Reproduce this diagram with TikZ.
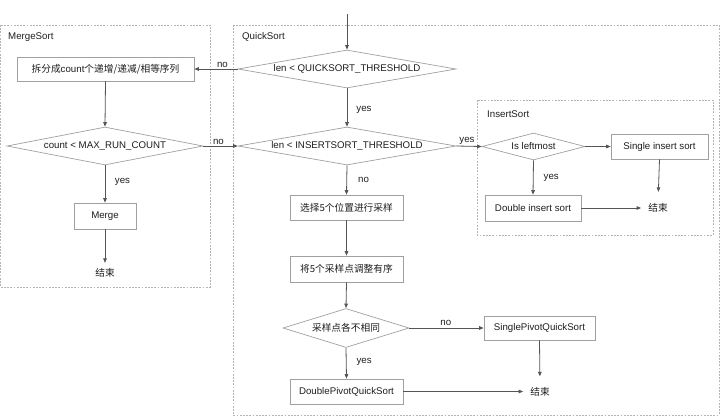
\documentclass[tikz,border=0pt]{standalone}
\usepackage{fontspec}
\setmainfont{Liberation Sans}
\newfontfamily\cjk{Noto Sans CJK SC}
\usetikzlibrary{shapes.geometric,arrows.meta}
\definecolor{txt}{HTML}{1E1E1E}
\definecolor{linec}{HTML}{555555}
\definecolor{bordc}{HTML}{A0A0A0}
\definecolor{contc}{HTML}{B4B4B4}
\begin{document}
\begin{tikzpicture}[x=1pt,y=-1pt,
  font=\fontsize{9.7}{11}\selectfont,
  every node/.style={text=txt},
  cont/.style={draw=contc,line width=0.7pt,dash pattern=on 1.8pt off 1.4pt},
  contlabel/.style={anchor=west,inner sep=0pt},
  stepbox/.style={draw=bordc,line width=0.7pt,fill=white,inner sep=0pt},
  dia/.style={shape=diamond,draw=bordc,line width=0.7pt,fill=white,inner sep=0pt},
  endnode/.style={inner sep=0.5pt},
  arr/.style={draw=linec,line width=0.8pt,-{Triangle[length=4.5pt,width=3.6pt]}},
  lab/.style={inner sep=1.5pt,font=\fontsize{9.7}{11}\selectfont}
]
\useasboundingbox (0,0) rectangle (720,418);

% containers
\draw[cont] (0.5,25) rectangle (210,287);
\draw[cont] (233,25) rectangle (719,415);
\draw[cont] (477,100) rectangle (713,235);
\node[contlabel] (lmerge) at (8,37) {MergeSort};
\node[contlabel] (lquick) at (242,37) {QuickSort};
\node[contlabel] (linsert) at (487,114) {InsertSort};

% MergeSort
\node[stepbox,minimum width=177pt,minimum height=24pt] (split) at (105.5,69) {{\cjk 拆分成}count{\cjk 个递增/递减/相等序列}};
\node[dia,aspect=5.2,minimum width=196pt,minimum height=38pt] (mrc) at (105,146) {count < MAX\_RUN\_COUNT};
\node[stepbox,minimum width=62pt,minimum height=26pt] (merge) at (105,216) {Merge};
\node[endnode] (end1) at (105,273) {\cjk 结束};

% QuickSort
\coordinate (start) at (347,14);
\node[dia,aspect=5.7,minimum width=218pt,minimum height=38pt] (qs) at (347,69) {len < QUICKSORT\_THRESHOLD};
\node[dia,aspect=5.7,minimum width=218pt,minimum height=38pt] (is) at (347,146) {len < INSERTSORT\_THRESHOLD};
\node[stepbox,minimum width=113pt,minimum height=25pt] (sample) at (346.5,207.5) {\cjk 选择5个位置进行采样};
\node[stepbox,minimum width=113pt,minimum height=26pt] (order) at (346.5,269) {\cjk 将5个采样点调整有序};
\node[dia,aspect=3.2,minimum width=126pt,minimum height=39pt] (dist) at (346,328) {\cjk 采样点各不相同};
\node[stepbox,minimum width=111pt,minimum height=24pt] (spq) at (539.5,328) {SinglePivotQuickSort};
\node[stepbox,minimum width=113pt,minimum height=25pt] (dpq) at (346.5,391.5) {DoublePivotQuickSort};
\node[endnode] (end3) at (540,391.5) {\cjk 结束};

% InsertSort
\node[dia,aspect=3.8,minimum width=103pt,minimum height=27pt] (lm) at (533.5,146.5) {Is leftmost};
\node[stepbox,minimum width=97pt,minimum height=25pt] (sis) at (659.5,146.5) {Single insert sort};
\node[stepbox,minimum width=96pt,minimum height=26pt] (dis) at (533,208) {Double insert sort};
\node[endnode] (end2) at (658,208) {\cjk 结束};

% connectors
\draw[arr] (start) -- (qs.north);
\draw[arr] (qs.west) -- node[lab,pos=0.35,above] {no} (split.east);
\draw[arr] (split.south) -- (mrc.north);
\draw[arr] (mrc.south) -- node[lab,pos=0.45,anchor=west,xshift=8pt] {yes} (merge.north);
\draw[arr,shorten >=5pt] (merge.south) -- (end1.north);
\draw[arr] (mrc.east) -- node[lab,pos=0.44,above] {no} (is.west);
\draw[arr] (qs.south) -- node[lab,pos=0.55,anchor=west,xshift=7.5pt] {yes} (is.north);
\draw[arr] (is.east) -- node[lab,pos=0.42,above,inner sep=1pt] {yes} (lm.west);
\draw[arr] (is.south) -- node[lab,pos=0.5,anchor=west,xshift=9.5pt] {no} (sample.north);
\draw[arr] (sample.south) -- (order.north);
\draw[arr] (order.south) -- (dist.north);
\draw[arr] (dist.east) -- node[lab,pos=0.49,above,yshift=1pt] {no} (spq.west);
\draw[arr] (dist.south) -- node[lab,pos=0.47,anchor=west,xshift=8.5pt] {yes} (dpq.north);
\draw[arr,shorten >=10pt] (spq.south) -- (end3.north);
\draw[arr,shorten >=6.5pt] (dpq.east) -- (end3.west);
\draw[arr] (lm.east) -- (sis.west);
\draw[arr] (lm.south) -- node[lab,pos=0.5,anchor=west,xshift=8.5pt] {yes} (dis.north);
\draw[arr,shorten >=11pt] (sis.south) -- (end2.north);
\draw[arr,shorten >=6.5pt] (dis.east) -- (end2.west);
\end{tikzpicture}
\end{document}
